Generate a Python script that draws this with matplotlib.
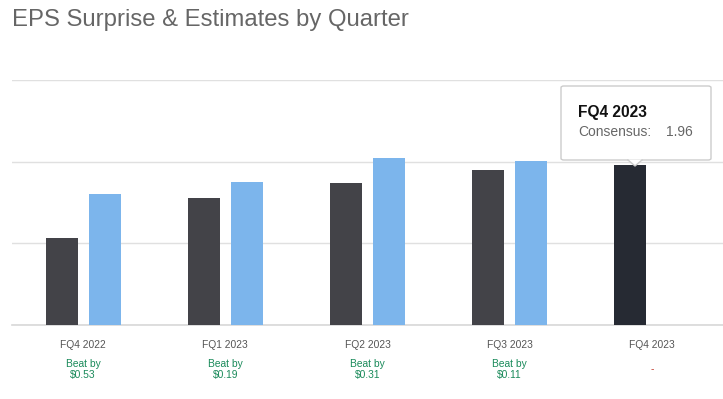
import matplotlib
matplotlib.use("Agg")
import matplotlib.pyplot as plt
from matplotlib.patches import FancyBboxPatch, Polygon
from matplotlib.lines import Line2D
import numpy as np

plt.rcParams['font.family'] = ['Liberation Sans', 'DejaVu Sans']

quarters = ["FQ4 2022", "FQ1 2023", "FQ2 2023", "FQ3 2023", "FQ4 2023"]
consensus = [1.07, 1.56, 1.74, 1.90, 1.96]
actual = [1.60, 1.75, 2.05, 2.01, None]
surprise_text = ["Beat by\n\\$0.53", "Beat by\n\\$0.19", "Beat by\n\\$0.31", "Beat by\n\\$0.11", "-"]
surprise_color = ["#1a8a5a", "#1a8a5a", "#1a8a5a", "#1a8a5a", "#c0392b"]
y_ticks = [0, 1, 2, 3]

W, H = 723, 399
fig = plt.figure(figsize=(W / 100, H / 100), dpi=100)
ax = fig.add_axes([12 / W, (H - 325) / H, (W - 12) / W, 245 / H])

x = np.arange(len(quarters))
bw = 0.225
off = 0.151
dark = "#434348"
blue = "#7cb5ec"
hover = "#262a33"

for i, q in enumerate(quarters):
    c = hover if i == len(quarters) - 1 else dark
    ax.bar(x[i] - off, consensus[i], width=bw, color=c, zorder=3)
    if actual[i] is not None:
        ax.bar(x[i] + off, actual[i], width=bw, color=blue, zorder=3)

ax.set_xlim(-0.5, len(quarters) - 0.5)
ax.set_ylim(0, 3)
ax.set_yticks(y_ticks)
ax.yaxis.grid(True, color="#e0e0e0", linewidth=1)
ax.set_axisbelow(True)
for s in ["top", "right", "left"]:
    ax.spines[s].set_visible(False)
ax.spines["bottom"].set_color("#d8d8d8")
ax.spines["bottom"].set_linewidth(1.2)
ax.tick_params(left=False, labelleft=False, bottom=False, labelbottom=False)

tr = ax.get_xaxis_transform()
for i, q in enumerate(quarters):
    ax.text(x[i], -20.5 / 245, q, transform=tr, ha="center", va="center",
            fontsize=7.4, color="#555555")
    ax.text(x[i], -44.5 / 245, surprise_text[i], transform=tr, ha="center", va="center",
            fontsize=7.4, color=surprise_color[i], linespacing=1.05)

fig.text(12 / W, 1 - 20 / H, "EPS Surprise & Estimates by Quarter", ha="left", va="center",
         fontsize=17.2, color="#666666")

# tooltip
bx0, bx1, by0, by1 = 561, 711, 86, 160
box = FancyBboxPatch((bx0 / W, 1 - by1 / H), (bx1 - bx0) / W, (by1 - by0) / H,
                     boxstyle="round,pad=0,rounding_size=0.004", transform=fig.transFigure,
                     facecolor="white", edgecolor="#cccccc", linewidth=1, zorder=10)
fig.patches.append(box)
tri = Polygon([[628 / W, 1 - 159.5 / H], [642 / W, 1 - 159.5 / H], [635 / W, 1 - 166 / H]],
              closed=True, transform=fig.transFigure, facecolor="white", edgecolor="none", zorder=11)
fig.patches.append(tri)
fig.lines.append(Line2D([628 / W, 635 / W, 642 / W], [1 - 160 / H, 1 - 166 / H, 1 - 160 / H],
                        transform=fig.transFigure, color="#cccccc", linewidth=1, zorder=12))
fig.text(578 / W, 1 - 112 / H, "FQ4 2023", ha="left", va="center", fontsize=11.2,
         fontweight="bold", color="#111111", zorder=13)
fig.text(578 / W, 1 - 132 / H, "Consensus:", ha="left", va="center", fontsize=10,
         color="#666666", zorder=13)
fig.text(693 / W, 1 - 132 / H, f"{consensus[-1]:.2f}", ha="right", va="center", fontsize=10,
         color="#666666", zorder=13)

fig.savefig("out.png", dpi=100)
